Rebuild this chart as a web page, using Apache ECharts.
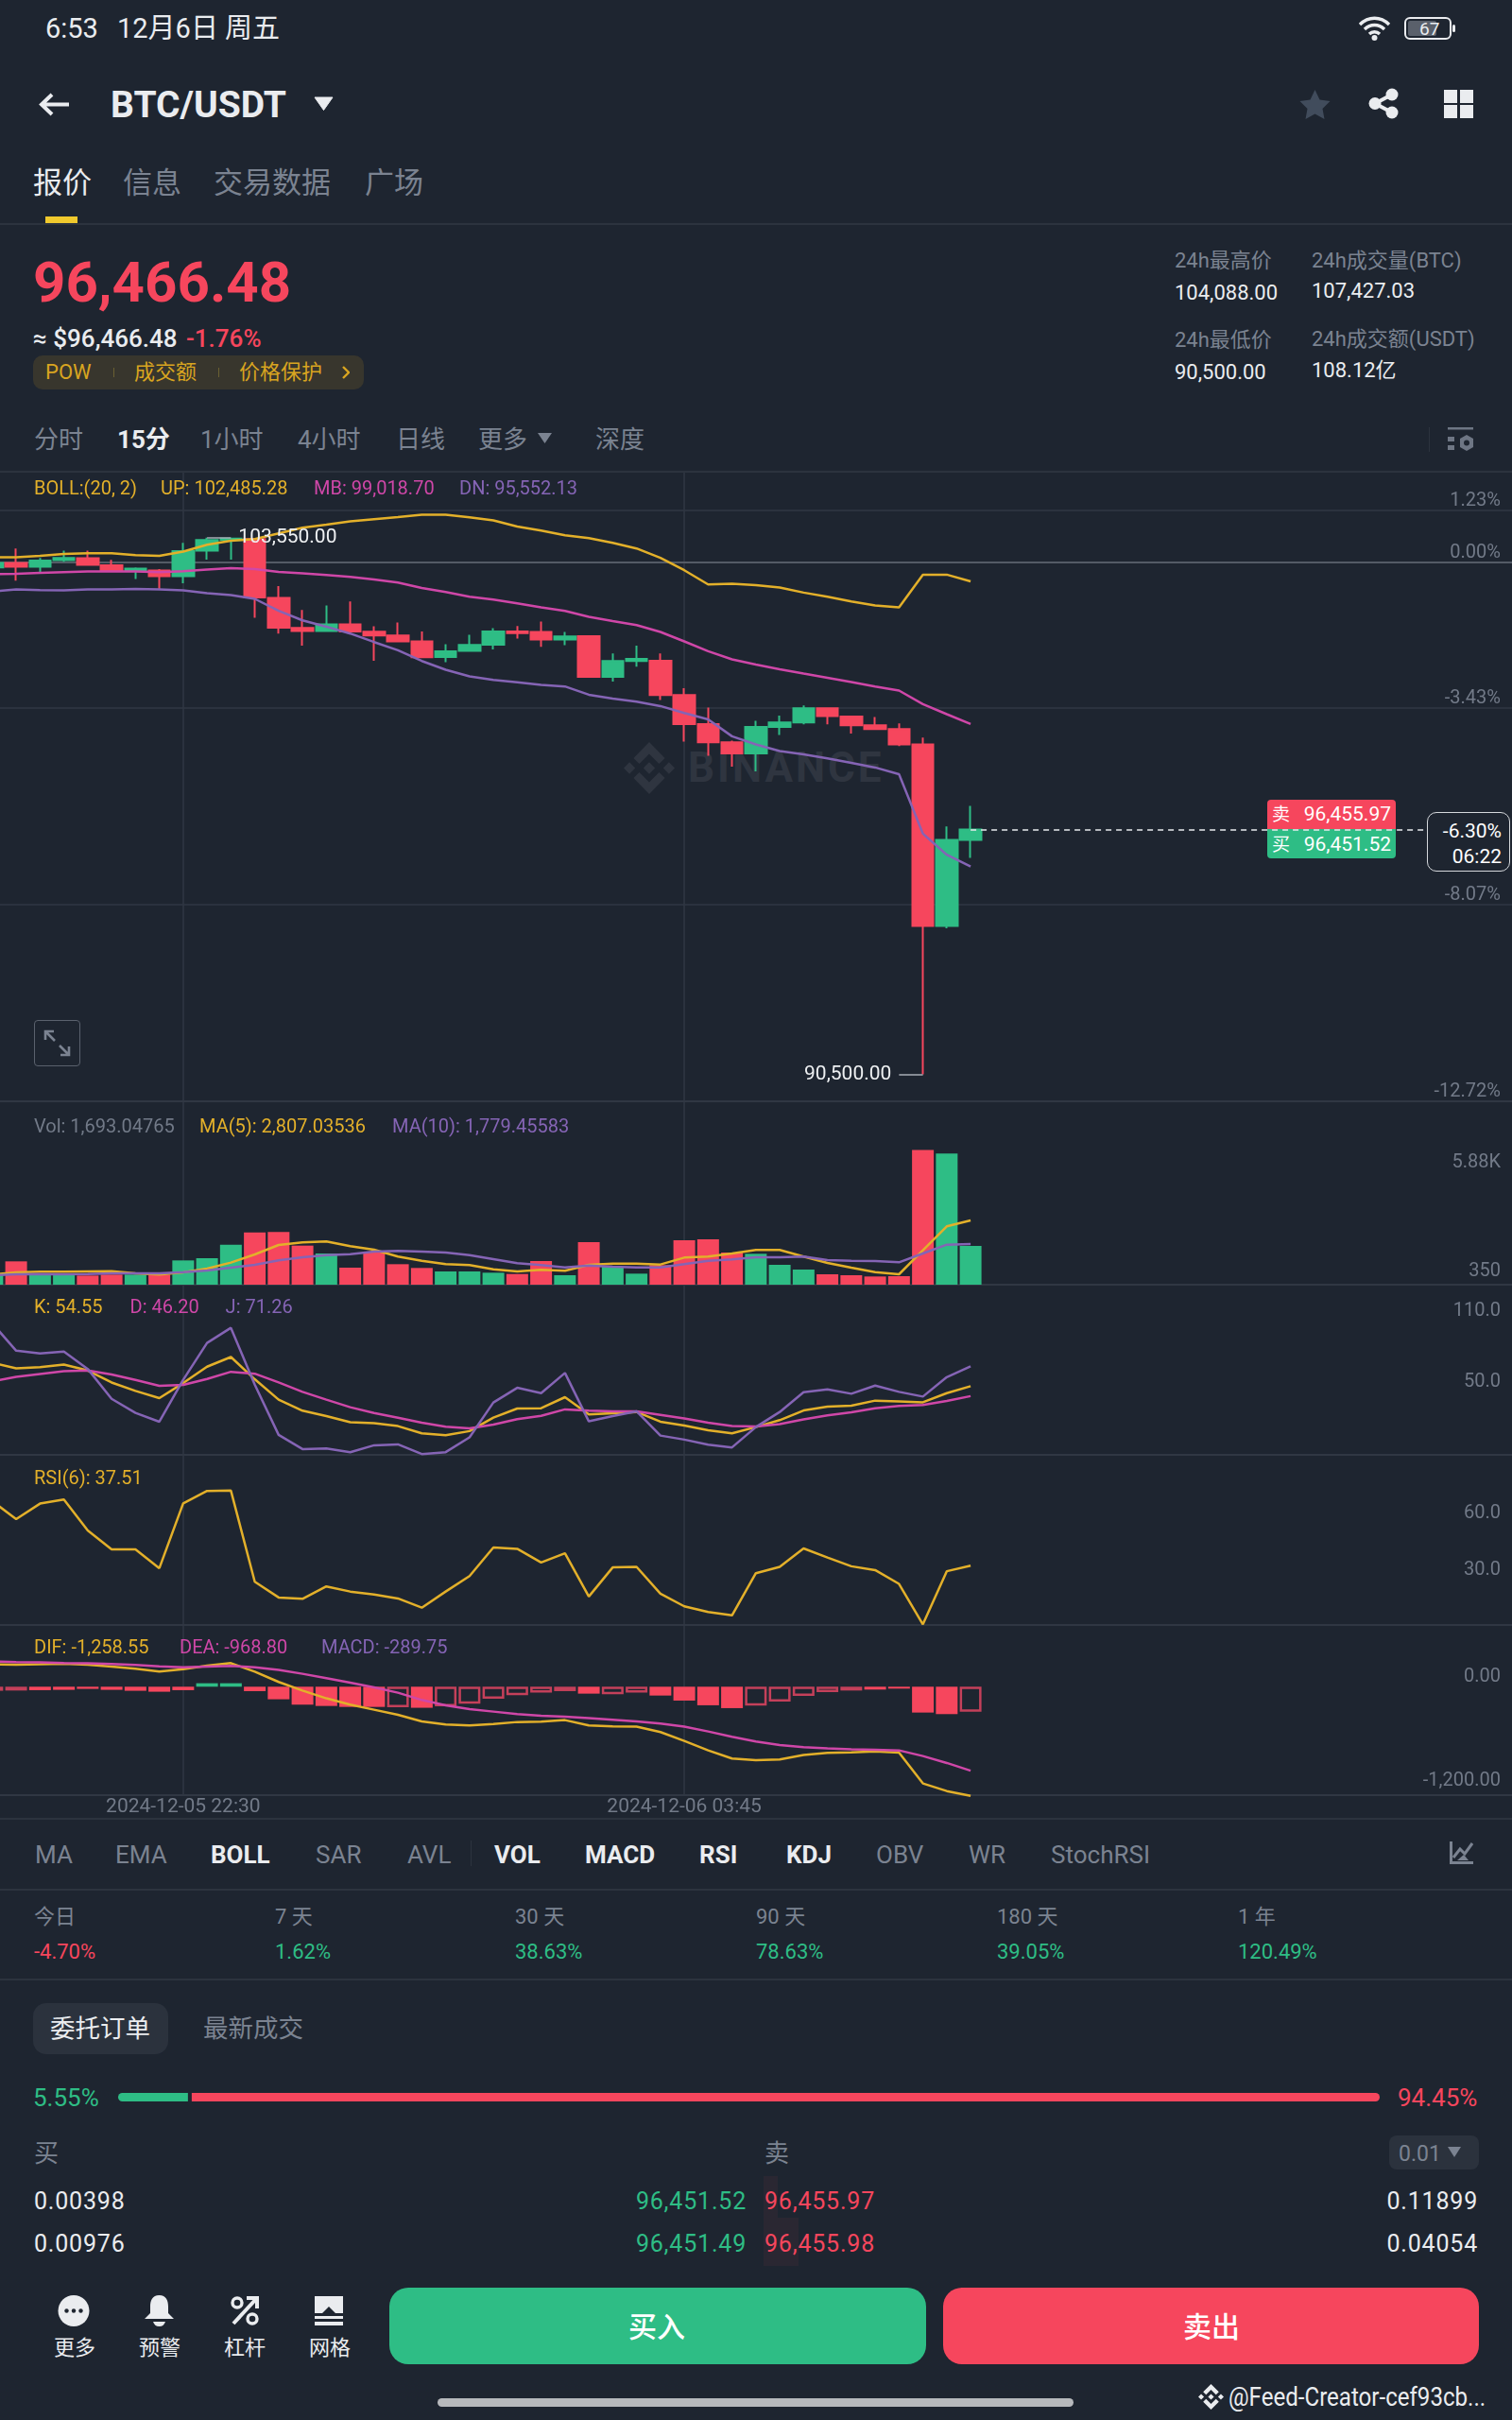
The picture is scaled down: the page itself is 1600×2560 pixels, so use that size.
<!DOCTYPE html>
<html>
<head>
<meta charset="utf-8">
<title>BTC/USDT</title>
<script src="https://cdn.jsdelivr.net/npm/echarts@6/dist/echarts.min.js"></script>
<style>
html,body{margin:0;padding:0;background:#1e2530;}
#page{position:relative;width:1600px;height:2560px;overflow:hidden;background:#1e2530;font-family:Roboto,"Noto Sans CJK SC",sans-serif;}
#chrome{position:absolute;left:0;top:0;width:1600px;height:2560px;z-index:1;}
#main{position:absolute;left:0;top:0;width:1600px;height:2560px;z-index:2;}
#chrome div,#chrome svg{position:absolute;}
.t{white-space:nowrap;line-height:1;}
</style>
</head>
<body>
<div id="page">
<div id="chrome"></div>
<div id="main"></div>
</div>
<script>
// candle values
var categories=['2024-12-05 20:30','2024-12-05 20:45','2024-12-05 21:00','2024-12-05 21:15','2024-12-05 21:30','2024-12-05 21:45','2024-12-05 22:00','2024-12-05 22:15','2024-12-05 22:30','2024-12-05 22:45','2024-12-05 23:00','2024-12-05 23:15','2024-12-05 23:30','2024-12-05 23:45','2024-12-06 00:00','2024-12-06 00:15','2024-12-06 00:30','2024-12-06 00:45','2024-12-06 01:00','2024-12-06 01:15','2024-12-06 01:30','2024-12-06 01:45','2024-12-06 02:00','2024-12-06 02:15','2024-12-06 02:30','2024-12-06 02:45','2024-12-06 03:00','2024-12-06 03:15','2024-12-06 03:30','2024-12-06 03:45','2024-12-06 04:00','2024-12-06 04:15','2024-12-06 04:30','2024-12-06 04:45','2024-12-06 05:00','2024-12-06 05:15','2024-12-06 05:30','2024-12-06 05:45','2024-12-06 06:00','2024-12-06 06:15','2024-12-06 06:30','2024-12-06 06:45'];
var opens=[102825,102933,102841,103002,103048,102878,102749,102749,102611,103232,103492,103515,102083,101354,101279,101439,101262,101171,101026,100649,100796,100948,101269,101256,101072,101154,100166,100550,100557,99723,99017,98574,98305,98948,99056,99401,99201,98987,98896,98521,94109,96200];
var closes=[102933,102841,102993,103055,102887,102749,102795,102611,103223,103492,103526,102097,101361,101279,101439,101269,101171,101026,100642,100787,100941,101269,101228,101072,101148,100166,100550,100603,99723,99017,98574,98305,98948,99056,99401,99210,98987,98896,98521,94109,96200,96453];
var lows=[102780,102503,102710,102963,102887,102749,102542,102303,102441,103016,103016,101600,101217,100925,101269,101269,100557,101026,100626,100520,100773,100833,101095,100895,100934,100166,100051,100412,99601,98590,98245,97983,97868,98751,99010,99010,98787,98896,98482,90500,94054,95763];
var highs=[102960,103285,103055,103232,103232,103009,102825,102786,103423,103550,103544,103537,102372,101791,101899,101998,101393,101485,101269,100957,101187,101347,101400,101508,101256,101154,100734,100925,100734,99891,99417,98613,99095,99224,99470,99401,99201,99187,99033,98689,96529,97027];
var bollUp=[103071,103071,103108,103154,103170,103170,103124,103108,103209,103377,103475,103515,103652,103790,103866,103944,103997,104050,104105,104105,104043,103967,103820,103721,103606,103537,103423,103285,103055,102756,102411,102428,102395,102336,102212,102113,101998,101899,101853,102648,102648,102485.28];
var bollMid=[102657,102671,102694,102710,102726,102726,102726,102710,102733,102772,102809,102786,102717,102680,102641,102595,102533,102457,102326,102228,102113,102044,101952,101853,101768,101623,101522,101423,101256,101026,100787,100589,100465,100350,100244,100143,100038,99930,99831,99500,99256,99018.7];
var bollDn=[102235,102290,102274,102267,102290,102290,102303,102290,102267,102198,102152,102060,101768,101538,101384,101217,101010,100810,100550,100336,100176,100090,100033,99969,99930,99730,99638,99562,99454,99286,99132,98719,98521,98360,98282,98183,98075,97960,97797,96352,95839,95552.13];
var volumes=[413,1019,441,441,399,441,441,441,1060,1157,1749,2286,2300,1707,1363,744,1446,895,730,578,578,523,468,1033,413,1859,785,482,854,1942,1983,1405,1349,868,661,454,413,358,372,5880,5728,1693.05];
var volMa5=[441,537,565,565,578,592,496,441,537,702,964,1322,1735,1845,1886,1680,1528,1226,1047,895,854,675,578,647,606,868,923,923,881,1184,1226,1363,1515,1515,1226,950,744,551,454,1501,2547,2807.04];
var volMa10=[413,454,468,454,468,496,496,496,551,620,744,868,1060,1198,1294,1336,1446,1473,1446,1405,1294,1115,936,854,757,840,785,757,757,895,1047,1102,1198,1198,1226,1074,1047,1033,978,1363,1749,1779.46];
var kdjK=[74.4,69.6,70.7,72.8,67.8,57.7,50.6,44.5,57.2,71,79.2,60.4,43.2,33.9,29.4,24.1,23.3,20.9,14.8,13.2,16.7,28,35.7,36,45.3,30.7,31.8,32.8,24.6,21.4,17.4,14.8,20.1,25.9,34.1,37.3,38.1,42.4,41.8,41,48.7,54.55];
var kdjD=[58.5,62.5,64.9,67.3,67.8,64.4,59.9,54.8,55.6,60.7,66.7,65.1,57.7,49.8,43.2,36.8,32,28,23.8,20.4,19,22.2,26.7,29.6,35,33.9,33.4,33.4,30.4,27.3,23.8,20.9,20.6,22.5,26.5,29.9,32.6,36,37.9,38.7,42.1,46.2];
var kdjJ=[107.6,84.5,82.1,83.7,69.1,43.9,32,24.6,59.9,91.1,103.8,55.9,13.5,1.5,2.1,-1.1,4.7,5.5,-2.7,-1.1,11.4,40.8,53.2,48.7,65.7,24.9,29.4,33.4,12.9,9.5,5.3,2.9,20.1,32.8,49.5,51.9,48.2,55.1,49.8,45.8,62.2,71.26];
var rsi6=[71.2,61.8,69.9,72,55.9,46,46,36.2,70,76.5,76.7,29.1,20.9,20.2,26.7,24,22.5,20.4,15.6,24,32.1,47,46.3,39.2,44,21.4,36.6,36.9,22.9,16.3,13.3,11.6,33.6,36.9,46.5,41.8,37.2,35.2,28,6.9,34.6,37.51];
var macdDif=[258,254,258,265,254,233,207,174,203,243,272,174,55,-44,-134,-207,-265,-323,-400,-436,-447,-429,-407,-403,-385,-447,-458,-461,-523,-625,-734,-828,-847,-839,-788,-763,-756,-745,-759,-1115,-1203,-1258.55];
var macdDea=[291,283,280,273,269,262,251,236,225,233,240,225,193,149,98,47,-7,-69,-153,-214,-258,-287,-316,-334,-345,-363,-381,-400,-425,-461,-516,-578,-632,-672,-698,-712,-723,-727,-734,-799,-879,-968.8];
var macdHist=[-47,-44,-40,-36,-25,-36,-47,-58,-40,40,40,-51,-145,-207,-222,-233,-233,-236,-243,-225,-196,-138,-98,-69,-51,-80,-87,-69,-102,-160,-214,-247,-218,-171,-105,-62,-44,-33,-22,-298,-316,-289.75];
var macdHollow=[1,1,0,0,0,0,0,0,0,0,0,0,0,0,0,0,0,1,0,1,1,1,1,1,1,0,1,1,0,0,0,0,1,1,1,1,1,0,0,0,0,1];
// ticks
var priceTicks=[104206,102940,99409,94633,89846];
var priceTickLabels=['1.23%','0.00%','-3.43%','-8.07%','-12.72%'];
var volTicks=[350,5880];
var volTickLabels=['{low|350}','{high|5.88K}'];
var kdjTicks=[50,110];
var kdjTickLabels=['50.0','110.0'];
var rsiTicks=[30,60];
var rsiTickLabels=['30.0','60.0'];
var macdTicks=[-1200,0];
var macdTickLabels=['-1,200.00','0.00'];
var timeLabelIdx=[8,29];
var highLabel='103,550.00',lowLabel='90,500.00';
var depthRatio=[5.55,94.45];

var RED='#f6465d',GREEN='#2ebd85',YELLOW='#e3b02a',PINK='#cf47a8',PURPLE='#8564b5',GRAY='#727a88',LINE='#303743';
var FONT='Roboto,"Noto Sans CJK SC",sans-serif';
var BAND=25.25,BANDS=65,LEFT=-20.775;

// pad the axis out to the right, the empty room of the chart
var axisData=categories.slice();
while(axisData.length<BANDS){axisData.push('');}

function lookup(ticks,labels){
  return function(v){
    for(var i=0;i<ticks.length;i++){ if(Math.abs(ticks[i]-v)<0.5){return labels[i];} }
    return '';
  };
}
function xAx(g,last){
  return {type:'category',gridIndex:g,data:axisData,boundaryGap:true,
    axisLine:{show:true,onZero:false,lineStyle:{color:LINE,width:2}},
    axisTick:{show:false},
    splitLine:{show:true,alignWithLabel:true,interval:function(i){return timeLabelIdx.indexOf(i)>=0;},lineStyle:{color:LINE,width:1.5}},
    axisLabel:last?{show:true,interval:function(i){return timeLabelIdx.indexOf(i)>=0;},color:GRAY,fontSize:21,fontFamily:FONT,margin:3,hideOverlap:false}:{show:false}};
}
function yAx(g,min,max,ticks,labels,extra){
  var ax={type:'value',gridIndex:g,min:min,max:max,position:'right',offset:-28.5,
    axisLine:{show:false},axisTick:{show:false,customValues:ticks},splitLine:{show:false},
    axisLabel:{show:true,inside:true,customValues:ticks,formatter:lookup(ticks,labels),color:GRAY,fontSize:20,fontFamily:FONT,margin:4,verticalAlign:'bottom'}};
  if(extra){extra(ax);}
  return ax;
}
function line(name,data,color,g){
  return {name:name,type:'line',data:data,xAxisIndex:g,yAxisIndex:g,symbol:'none',showSymbol:false,silent:true,clip:false,z:3,
    lineStyle:{color:color,width:2.5}};
}
function gridAt(top,bottom){
  return {left:LEFT,top:top,width:BAND*BANDS,height:bottom-top,show:false,outerBoundsMode:'none'};
}
function lbl(left,cy,text,color){
  return {text:text,left:left,top:cy-11,padding:0,textStyle:{color:color,fontSize:20,fontWeight:400,fontFamily:FONT,lineHeight:24}};
}

var candleData=[];
for(var i=0;i<opens.length;i++){candleData.push([opens[i],closes[i],lows[i],highs[i]]);}
var volData=volumes.map(function(v,i){return {value:v,itemStyle:{color:closes[i]>opens[i]?GREEN:RED}};});
var histData=macdHist.map(function(v,i){
  if(macdHollow[i]){return {value:v,itemStyle:{color:'transparent',borderColor:'#c4405a',borderWidth:2.5}};}
  return {value:v,itemStyle:{color:v>0?GREEN:RED}};
});
var lastClose=closes[closes.length-1];

var option={
  backgroundColor:'transparent',
  animation:false,
  grid:[gridAt(500,1165),gridAt(1165,1359),gridAt(1359,1538.5),gridAt(1538.5,1718.5),gridAt(1718.5,1898.7),
    {left:125,top:2214,width:1335,height:9,show:false}],
  xAxis:[xAx(0),xAx(1),xAx(2),xAx(3),xAx(4,true),
    {type:'value',gridIndex:5,min:0,max:100.3,show:false}],
  yAxis:[
    yAx(0,89846,105128,priceTicks,priceTickLabels,function(a){a.splitLine={show:true,lineStyle:{color:LINE,width:1.5}};}),
    yAx(1,0,8012,volTicks,volTickLabels,function(a){
      a.axisLabel.verticalAlign='middle';
      a.axisLabel.rich={low:{color:GRAY,fontSize:20,fontFamily:FONT,padding:[0,0,12,0]},high:{color:GRAY,fontSize:20,fontFamily:FONT,padding:[26,0,0,0]}};
    }),
    yAx(2,-2.95,140.2,kdjTicks,kdjTickLabels),
    yAx(3,6.8,95.6,rsiTicks,rsiTickLabels),
    yAx(4,-1247,717,macdTicks,macdTickLabels),
    {type:'category',gridIndex:5,data:['depth'],show:false}
  ],
  title:[
    lbl(36,517,'BOLL:(20, 2)',YELLOW),lbl(170,517,'UP: 102,485.28',YELLOW),lbl(332,517,'MB: 99,018.70',PINK),lbl(486,517,'DN: 95,552.13',PURPLE),
    lbl(36,1191.7,'Vol: 1,693.04765',GRAY),lbl(211,1191.7,'MA(5): 2,807.03536',YELLOW),lbl(415,1191.7,'MA(10): 1,779.45583',PURPLE),
    lbl(36,1383,'K: 54.55',YELLOW),lbl(137.5,1383,'D: 46.20',PINK),lbl(238.6,1383,'J: 71.26',PURPLE),
    lbl(36,1564,'RSI(6): 37.51',YELLOW),
    lbl(36,1743,'DIF: -1,258.55',YELLOW),lbl(190,1743,'DEA: -968.80',PINK),lbl(340,1743,'MACD: -289.75',PURPLE)
  ],
  series:[
    {name:'K',type:'candlestick',data:candleData,xAxisIndex:0,yAxisIndex:0,barWidth:23,silent:true,z:2,clip:false,
      itemStyle:{color:GREEN,color0:RED,borderColor:GREEN,borderColor0:RED,borderWidth:2},
      markLine:{silent:true,symbol:'none',z:5,animation:false,
        data:[
          [{coord:[9,highs[9]],lineStyle:{color:'#a9aeb6',width:1.5,type:'solid'},label:{show:true,position:'end',formatter:highLabel,color:'#eef0f2',fontSize:21,fontFamily:FONT,distance:8}},{coord:[10,highs[9]]}],
          [{coord:[39,lows[39]],lineStyle:{color:'#a9aeb6',width:1.5,type:'solid'},label:{show:true,position:'end',formatter:lowLabel,color:'#eef0f2',fontSize:21,fontFamily:FONT,distance:8}},{coord:[38,lows[39]]}],
          [{coord:[41,lastClose],lineStyle:{color:'#e8eaed',width:1.5,type:[6,5]},label:{show:false}},{coord:[60,lastClose]}]
        ]}},
    line('UP',bollUp,YELLOW,0),
    line('MB',bollMid,PINK,0),
    line('DN',bollDn,PURPLE,0),
    {name:'Base',type:'line',data:[],xAxisIndex:0,yAxisIndex:0,silent:true,z:1,
      markLine:{silent:true,symbol:'none',z:1,animation:false,label:{show:false},lineStyle:{color:'#636a75',width:1.5,type:'solid'},data:[{yAxis:priceTicks[1]}]}},
    {name:'Vol',type:'bar',data:volData,xAxisIndex:1,yAxisIndex:1,barWidth:23,silent:true,z:2},
    line('MA5',volMa5,YELLOW,1),
    line('MA10',volMa10,PURPLE,1),
    line('K',kdjK,YELLOW,2),
    line('D',kdjD,PINK,2),
    line('J',kdjJ,PURPLE,2),
    line('RSI',rsi6,YELLOW,3),
    {name:'MACD',type:'bar',data:histData,xAxisIndex:4,yAxisIndex:4,barWidth:23,silent:true,z:2},
    line('DIF',macdDif,YELLOW,4),
    line('DEA',macdDea,PINK,4),
    {name:'buy',type:'bar',stack:'d',data:[depthRatio[0]],xAxisIndex:5,yAxisIndex:5,barWidth:9,silent:true,itemStyle:{color:GREEN,borderRadius:[5,0,0,5]}},
    {name:'gap',type:'bar',stack:'d',data:[0.3],xAxisIndex:5,yAxisIndex:5,barWidth:9,silent:true,itemStyle:{color:'transparent'}},
    {name:'sell',type:'bar',stack:'d',data:[depthRatio[1]],xAxisIndex:5,yAxisIndex:5,barWidth:9,silent:true,itemStyle:{color:RED,borderRadius:[0,5,5,0]}}
  ]
};

// app frame around the chart
var chrome=document.getElementById('chrome');
function txt(x,cy,s,size,color,weight,right){
  var d=document.createElement('div');
  d.className='t';
  d.textContent=s;
  d.style.top=cy+'px';
  d.style.transform='translateY(-50%)';
  if(right){d.style.right=(1600-x)+'px';}else{d.style.left=x+'px';}
  d.style.fontSize=size+'px';
  d.style.color=color;
  d.style.fontWeight=weight||400;
  chrome.appendChild(d);
  return d;
}
function box(x,y,w,h,bg,r,extra){
  var d=document.createElement('div');
  d.style.cssText='left:'+x+'px;top:'+y+'px;width:'+w+'px;height:'+h+'px;background:'+bg+';border-radius:'+(r||0)+'px;'+(extra||'');
  chrome.appendChild(d);
  return d;
}
function icon(x,y,w,h,vb,body){
  var holder=document.createElement('div');
  holder.innerHTML='<svg xmlns="http://www.w3.org/2000/svg" style="left:'+x+'px;top:'+y+'px;width:'+w+'px;height:'+h+'px" viewBox="'+vb+'" preserveAspectRatio="none">'+body+'</svg>';
  chrome.appendChild(holder.firstChild);
}
var WHITE='#eaecef',DIM='#7b8391',DIV='#2c333e',TAG='#d9a520';
var LOGO='M38.73 53.2L63.3 28.63l24.59 24.59 14.3-14.3L63.3 0 24.43 38.87zM0 63.31l14.3-14.3 14.3 14.3-14.3 14.3zM38.73 73.41L63.3 97.98l24.59-24.59 14.31 14.29L63.3 126.61 24.43 87.73l-.02-.02zM98.01 63.31l14.3-14.3 14.3 14.3-14.3 14.3zM77.81 63.3l-14.51-14.52-10.73 10.73-1.24 1.23-2.54 2.54 14.51 14.5 14.51-14.48z';

// status bar
txt(48,30,'6:53',29,WHITE);
txt(124,30,'12月6日 周五',29,WHITE);
icon(1437,17,35,26,'0 0 35 26','<path d="M2 9C11 0 24 0 33 9M7 14C13 8 22 8 28 14M12 19C15 16 20 16 23 19" fill="none" stroke="#eaecef" stroke-width="3.4"/><circle cx="17.5" cy="23" r="3" fill="#eaecef"/>');
icon(1486,18,55,24,'0 0 55 24','<rect x="1" y="1" width="48" height="22" rx="5" fill="none" stroke="#eaecef" stroke-width="2"/><rect x="4" y="4" width="30" height="16" rx="2" fill="#5a606b"/><rect x="51" y="8" width="3" height="8" rx="1.5" fill="#eaecef"/>');
txt(1502,30,'67',19,WHITE);

// header
icon(40,98,34,25,'0 0 34 25','<path d="M33 12.5H4M15 2L4 12.5 15 23" fill="none" stroke="#eaecef" stroke-width="4"/>');
txt(117,111,'BTC/USDT',39,WHITE,700);
icon(332,102,21,15,'0 0 21 15','<path d="M1 1H20L10.5 14.5z" fill="#eaecef" stroke="#eaecef" stroke-linejoin="round"/>');
icon(1375,94,33,33,'0 0 33 33','<path d="M16.5 1L21.5 11.5 32.5 13 24.5 21 26.5 32 16.5 26.5 6.5 32 8.5 21 .5 13 11.5 11.5z" fill="#414c5c"/>');
icon(1448,93,32,33,'0 0 32 33','<path d="M25 7L7 16.5 25 26" fill="none" stroke="#eaecef" stroke-width="4"/><circle cx="25" cy="7" r="6.5" fill="#eaecef"/><circle cx="25" cy="26" r="6.5" fill="#eaecef"/><circle cx="7" cy="16.5" r="6.5" fill="#eaecef"/>');
box(1528,95,14,14,WHITE);box(1545,95,14,14,WHITE);box(1528,111,14,14,WHITE);box(1545,111,14,14,WHITE);

// tabs
txt(35,193,'报价',31,WHITE);
txt(130,193,'信息',31,DIM);
txt(226,193,'交易数据',31,DIM);
txt(386,193,'广场',31,DIM);
box(48,229,34,7,'#f0c92d');
box(0,236,1600,2,DIV);

// price block
txt(35,299,'96,466.48',60,RED,700);
txt(35,358,'≈ $96,466.48',26,WHITE,500);
txt(197,358,'-1.76%',26,RED,500);
box(35,376,350,36,'#38362d',10);
txt(48,394,'POW',22,TAG);
box(120,389,1,10,'#6a6032');
txt(142,394,'成交额',22,TAG);
box(231,389,1,10,'#6a6032');
txt(253,394,'价格保护',22,TAG);
icon(362,387,8,14,'0 0 8 14','<path d="M1 1L7 7 1 13" fill="none" stroke="#d9a520" stroke-width="2.4"/>');
txt(1243,276,'24h最高价',22,DIM);
txt(1243,310,'104,088.00',22,WHITE);
txt(1388,276,'24h成交量(BTC)',22,DIM);
txt(1388,308,'107,427.03',22,WHITE);
txt(1243,360,'24h最低价',22,DIM);
txt(1243,394,'90,500.00',22,WHITE);
txt(1388,359,'24h成交额(USDT)',22,DIM);
txt(1388,392,'108.12亿',22,WHITE);

// interval row
txt(36,465,'分时',26,DIM);
txt(124,465,'15分',26,WHITE,700);
txt(212,465,'1小时',26,DIM);
txt(315,465,'4小时',26,DIM);
txt(419,465,'日线',26,DIM);
txt(506,465,'更多',26,DIM);
icon(569,458,15,11,'0 0 15 11','<path d="M0 0H15L7.5 11z" fill="#7b8391"/>');
txt(630,465,'深度',26,DIM);
box(1512,452,1,26,DIV);
icon(1532,452,27,26,'0 0 27 26','<path d="M0 1H27" stroke="#6e7684" stroke-width="3"/><rect x="0" y="10" width="7" height="5" fill="#6e7684"/><rect x="0" y="19" width="7" height="5" fill="#6e7684"/><path d="M20 8L27 12V21L20 25 13 21V12z" fill="#6e7684"/><circle cx="20" cy="16.5" r="3" fill="#1e2530"/>');
box(0,498,1600,2,DIV);

// watermark and marks that sit under the chart canvas
icon(660,785,54,55,'0 0 126.61 126.61','<path d="'+LOGO+'" fill="#2f3540"/>');
var wm=txt(728,812,'BINANCE',44,'#2f3540',700);
wm.style.letterSpacing='3px';
box(36,1079,49,49,'transparent',4,'border:1.5px solid #5a616d;box-sizing:border-box;');
icon(46,1089,29,29,'0 0 29 29','<path d="M2 11V2H11M2 2L12 12M27 18V27H18M27 27L17 17" fill="none" stroke="#7b8391" stroke-width="2.6"/>');
box(1340.5,846,136.5,31,RED,4,'border-bottom-left-radius:0;border-bottom-right-radius:0;');
box(1340.5,877,136.5,31,GREEN,4,'border-top-left-radius:0;border-top-right-radius:0;');
txt(1346,861,'卖',19,'#fff');
txt(1472,861,'96,455.97',21,'#fff',400,true);
txt(1346,893,'买',19,'#fff');
txt(1472,893,'96,451.52',21,'#fff',400,true);
box(1510,859,88,63,'#1e2530',10,'border:1.5px solid #d5d8dc;box-sizing:border-box;');
txt(1589,879,'-6.30%',21,'#fff',400,true);
txt(1589,906,'06:22',21,'#fff',400,true);

// indicator row
box(0,1923,1600,2,DIV);
txt(37,1962,'MA',26,DIM);
txt(122,1962,'EMA',26,DIM);
txt(223,1962,'BOLL',26,WHITE,700);
txt(334,1962,'SAR',26,DIM);
txt(431,1962,'AVL',26,DIM);
box(498,1947,1,27,DIV);
txt(523,1962,'VOL',26,WHITE,700);
txt(619,1962,'MACD',26,WHITE,700);
txt(740,1962,'RSI',26,WHITE,700);
txt(832,1962,'KDJ',26,WHITE,700);
txt(927,1962,'OBV',26,DIM);
txt(1025,1962,'WR',26,DIM);
txt(1112,1962,'StochRSI',26,DIM);
icon(1534,1948,25,24,'0 0 25 24','<path d="M1.5 0V22.5H25" fill="none" stroke="#7b8391" stroke-width="3"/><path d="M4 17L11 8 16 13 24 2" fill="none" stroke="#7b8391" stroke-width="3"/><path d="M8 20L15 14 20 20z" fill="#7b8391"/>');
box(0,1998,1600,2,DIV);

// period returns
var periodNames=['今日','7 天','30 天','90 天','180 天','1 年'];
var periodValues=['-4.70%','1.62%','38.63%','78.63%','39.05%','120.49%'];
var periodX=[36,291,545,800,1055,1310];
for(var p=0;p<periodNames.length;p++){
  txt(periodX[p],2028,periodNames[p],22,DIM);
  txt(periodX[p],2065,periodValues[p],22,p==0?RED:GREEN);
}
box(0,2093,1600,2,DIV);

// order book
box(35,2119,143,54,'#2b323d',14);
txt(53,2146,'委托订单',26.5,WHITE);
txt(215,2146,'最新成交',26.5,DIM);
txt(35,2219,'5.55%',26,GREEN);
txt(1479,2219,'94.45%',26,RED);
txt(36,2278,'买',26,DIM);
txt(809,2278,'卖',26,DIM);
box(1470,2259,95,36,'#2b323d',8);
txt(1480,2278,'0.01',23,DIM);
icon(1532,2271,14,11,'0 0 14 11','<path d="M0 0H14L7 11z" fill="#7b8391"/>');
box(808,2302,15,44,'#2a2732');
box(808,2346,37,51,'#2a2732');
txt(36,2328,'0.00398',25,WHITE).style.letterSpacing='.8px';
txt(36,2373,'0.00976',25,WHITE).style.letterSpacing='.8px';
txt(790,2328,'96,451.52',25,GREEN,400,true).style.letterSpacing='.8px';
txt(790,2373,'96,451.49',25,GREEN,400,true).style.letterSpacing='.8px';
txt(809,2328,'96,455.97',25,RED).style.letterSpacing='.8px';
txt(809,2373,'96,455.98',25,RED).style.letterSpacing='.8px';
txt(1564,2328,'0.11899',25,WHITE,400,true).style.letterSpacing='.8px';
txt(1564,2373,'0.04054',25,WHITE,400,true).style.letterSpacing='.8px';

// bottom bar
icon(61,2428,34,33,'0 0 34 33','<circle cx="17" cy="16.5" r="16.5" fill="#eaecef"/><circle cx="9.5" cy="16.5" r="2.2" fill="#1e2530"/><circle cx="17" cy="16.5" r="2.2" fill="#1e2530"/><circle cx="24.5" cy="16.5" r="2.2" fill="#1e2530"/>');
txt(57,2484,'更多',22,WHITE);
icon(153,2428,31,33,'0 0 31 33','<path d="M15.5 0C8 0 6 6 6 12V19L0 25H31L25 19V12C25 6 23 0 15.5 0z" fill="#eaecef"/><path d="M9 28H22C21 31 19 33 15.5 33 12 33 10 31 9 28z" fill="#eaecef"/>');
txt(147,2484,'预警',22,WHITE);
icon(244,2428,30,33,'0 0 30 33','<path d="M3 30L27 4M17 3H28V14" fill="none" stroke="#eaecef" stroke-width="4"/><circle cx="7" cy="8" r="5" fill="none" stroke="#eaecef" stroke-width="3.4"/><circle cx="23" cy="25" r="5" fill="none" stroke="#eaecef" stroke-width="3.4"/>');
txt(237,2484,'杠杆',22,WHITE);
icon(333,2429,30,31,'0 0 30 31','<path d="M0 0H30V18H22L15 11 8 18H0z" fill="#eaecef"/><path d="M0 21H30V24H0zM0 27H30V31H0z" fill="#eaecef"/>');
txt(327,2484,'网格',22,WHITE);
box(412,2420,568,81,GREEN,20);
box(998,2420,567,81,RED,20);
txt(665,2462,'买入',30,'#fff',500);
txt(1252,2462,'卖出',30,'#fff',500);
box(463,2537,673,9,'#b7b9bc',5);
icon(1268,2522,27,27,'0 0 126.61 126.61','<path d="'+LOGO+'" fill="#eaecef"/>');
var credit=txt(1300,2536,'@Feed-Creator-cef93cb...',28,WHITE);
credit.style.transform='translateY(-50%) scaleX(.86)';
credit.style.transformOrigin='left center';

var chart=echarts.init(document.getElementById('main'),null,{width:1600,height:2560});
chart.setOption(option);
</script>
</body>
</html>
